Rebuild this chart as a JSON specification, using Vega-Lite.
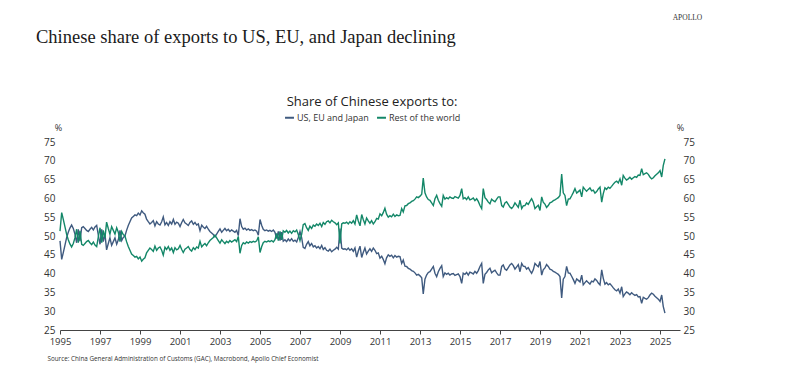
{
"$schema":"https://vega.github.io/schema/vega-lite/v6.json",
"width":620,"height":188,
"autosize":"none",
"padding":{"left":60,"top":142,"right":111,"bottom":55},
"background":"white",
"title":{"text":"Chinese share of exports to US, EU, and Japan declining","anchor":"start","frame":"group","font":"Liberation Serif","fontSize":18.5,"fontWeight":"normal","color":"#1a1a1a","dx":-24,"dy":37},
"config":{"view":{"stroke":null},"font":"Open Sans"},
"data":{"values":[
{"d":"1995-01","a":48.7,"b":51.3},{"d":"1995-02","a":43.8,"b":56.2},{"d":"1995-03","a":45.5,"b":54.5},{"d":"1995-04","a":47.5,"b":52.5},{"d":"1995-05","a":49.5,"b":50.5},{"d":"1995-06","a":51.0,"b":49.0},{"d":"1995-07","a":52.1,"b":47.9},{"d":"1995-08","a":52.9,"b":47.1},{"d":"1995-09","a":52.0,"b":48.0},{"d":"1995-10","a":50.5,"b":49.5},{"d":"1995-11","a":48.2,"b":51.8},{"d":"1995-12","a":51.8,"b":48.2},
{"d":"1996-01","a":48.6,"b":51.4},{"d":"1996-02","a":52.2,"b":47.8},{"d":"1996-03","a":52.5,"b":47.5},{"d":"1996-04","a":52.0,"b":48.0},{"d":"1996-05","a":51.5,"b":48.5},{"d":"1996-06","a":51.2,"b":48.8},{"d":"1996-07","a":51.8,"b":48.2},{"d":"1996-08","a":52.3,"b":47.7},{"d":"1996-09","a":51.6,"b":48.4},{"d":"1996-10","a":52.4,"b":47.6},{"d":"1996-11","a":52.8,"b":47.2},{"d":"1996-12","a":50.2,"b":49.8},
{"d":"1997-01","a":47.8,"b":52.2},{"d":"1997-02","a":51.8,"b":48.2},{"d":"1997-03","a":48.5,"b":51.5},{"d":"1997-04","a":50.5,"b":49.5},{"d":"1997-05","a":46.3,"b":53.7},{"d":"1997-06","a":48.0,"b":52.0},{"d":"1997-07","a":49.5,"b":50.5},{"d":"1997-08","a":47.5,"b":52.5},{"d":"1997-09","a":48.5,"b":51.5},{"d":"1997-10","a":49.5,"b":50.5},{"d":"1997-11","a":47.8,"b":52.2},{"d":"1997-12","a":49.0,"b":51.0},
{"d":"1998-01","a":51.5,"b":48.5},{"d":"1998-02","a":48.8,"b":51.2},{"d":"1998-03","a":49.6,"b":50.4},{"d":"1998-04","a":50.0,"b":50.0},{"d":"1998-05","a":51.5,"b":48.5},{"d":"1998-06","a":52.8,"b":47.2},{"d":"1998-07","a":53.8,"b":46.2},{"d":"1998-08","a":54.8,"b":45.2},{"d":"1998-09","a":55.2,"b":44.8},{"d":"1998-10","a":55.6,"b":44.4},{"d":"1998-11","a":55.4,"b":44.6},{"d":"1998-12","a":56.1,"b":43.9},
{"d":"1999-01","a":55.6,"b":44.4},{"d":"1999-02","a":56.7,"b":43.3},{"d":"1999-03","a":56.2,"b":43.8},{"d":"1999-04","a":55.8,"b":44.2},{"d":"1999-05","a":54.5,"b":45.5},{"d":"1999-06","a":53.8,"b":46.2},{"d":"1999-07","a":53.2,"b":46.8},{"d":"1999-08","a":53.6,"b":46.4},{"d":"1999-09","a":54.1,"b":45.9},{"d":"1999-10","a":52.7,"b":47.3},{"d":"1999-11","a":53.8,"b":46.2},{"d":"1999-12","a":53.2,"b":46.8},
{"d":"2000-01","a":52.9,"b":47.1},{"d":"2000-02","a":53.8,"b":46.2},{"d":"2000-03","a":55.1,"b":44.9},{"d":"2000-04","a":53.0,"b":47.0},{"d":"2000-05","a":53.6,"b":46.4},{"d":"2000-06","a":52.8,"b":47.2},{"d":"2000-07","a":53.8,"b":46.2},{"d":"2000-08","a":53.2,"b":46.8},{"d":"2000-09","a":54.4,"b":45.6},{"d":"2000-10","a":53.1,"b":46.9},{"d":"2000-11","a":53.7,"b":46.3},{"d":"2000-12","a":53.4,"b":46.6},
{"d":"2001-01","a":52.5,"b":47.5},{"d":"2001-02","a":53.6,"b":46.4},{"d":"2001-03","a":54.4,"b":45.6},{"d":"2001-04","a":53.5,"b":46.5},{"d":"2001-05","a":53.2,"b":46.8},{"d":"2001-06","a":52.8,"b":47.2},{"d":"2001-07","a":53.6,"b":46.4},{"d":"2001-08","a":54.0,"b":46.0},{"d":"2001-09","a":53.1,"b":46.9},{"d":"2001-10","a":53.6,"b":46.4},{"d":"2001-11","a":52.9,"b":47.1},{"d":"2001-12","a":53.2,"b":46.8},
{"d":"2002-01","a":51.4,"b":48.6},{"d":"2002-02","a":52.9,"b":47.1},{"d":"2002-03","a":52.4,"b":47.6},{"d":"2002-04","a":52.0,"b":48.0},{"d":"2002-05","a":52.6,"b":47.4},{"d":"2002-06","a":51.8,"b":48.2},{"d":"2002-07","a":51.2,"b":48.8},{"d":"2002-08","a":50.8,"b":49.2},{"d":"2002-09","a":50.4,"b":49.6},{"d":"2002-10","a":49.8,"b":50.2},{"d":"2002-11","a":50.5,"b":49.5},{"d":"2002-12","a":51.2,"b":48.8},
{"d":"2003-01","a":51.9,"b":48.1},{"d":"2003-02","a":51.0,"b":49.0},{"d":"2003-03","a":51.5,"b":48.5},{"d":"2003-04","a":52.0,"b":48.0},{"d":"2003-05","a":51.4,"b":48.6},{"d":"2003-06","a":51.8,"b":48.2},{"d":"2003-07","a":51.2,"b":48.8},{"d":"2003-08","a":51.6,"b":48.4},{"d":"2003-09","a":51.3,"b":48.7},{"d":"2003-10","a":51.0,"b":49.0},{"d":"2003-11","a":51.5,"b":48.5},{"d":"2003-12","a":50.1,"b":49.9},
{"d":"2004-01","a":54.6,"b":45.4},{"d":"2004-02","a":52.5,"b":47.5},{"d":"2004-03","a":51.8,"b":48.2},{"d":"2004-04","a":52.1,"b":47.9},{"d":"2004-05","a":51.6,"b":48.4},{"d":"2004-06","a":51.9,"b":48.1},{"d":"2004-07","a":51.5,"b":48.5},{"d":"2004-08","a":51.7,"b":48.3},{"d":"2004-09","a":51.4,"b":48.6},{"d":"2004-10","a":51.6,"b":48.4},{"d":"2004-11","a":51.3,"b":48.7},{"d":"2004-12","a":50.2,"b":49.8},
{"d":"2005-01","a":54.4,"b":45.6},{"d":"2005-02","a":52.8,"b":47.2},{"d":"2005-03","a":51.8,"b":48.2},{"d":"2005-04","a":51.4,"b":48.6},{"d":"2005-05","a":51.6,"b":48.4},{"d":"2005-06","a":51.3,"b":48.7},{"d":"2005-07","a":51.5,"b":48.5},{"d":"2005-08","a":51.2,"b":48.8},{"d":"2005-09","a":51.6,"b":48.4},{"d":"2005-10","a":51.0,"b":49.0},{"d":"2005-11","a":49.3,"b":50.7},{"d":"2005-12","a":51.2,"b":48.8},
{"d":"2006-01","a":48.8,"b":51.2},{"d":"2006-02","a":51.0,"b":49.0},{"d":"2006-03","a":48.6,"b":51.4},{"d":"2006-04","a":49.0,"b":51.0},{"d":"2006-05","a":48.5,"b":51.5},{"d":"2006-06","a":49.2,"b":50.8},{"d":"2006-07","a":48.7,"b":51.3},{"d":"2006-08","a":49.3,"b":50.7},{"d":"2006-09","a":48.6,"b":51.4},{"d":"2006-10","a":48.9,"b":51.1},{"d":"2006-11","a":48.4,"b":51.6},{"d":"2006-12","a":49.6,"b":50.4},
{"d":"2007-01","a":51.2,"b":48.8},{"d":"2007-02","a":49.5,"b":50.5},{"d":"2007-03","a":47.0,"b":53.0},{"d":"2007-04","a":46.7,"b":53.3},{"d":"2007-05","a":47.8,"b":52.2},{"d":"2007-06","a":48.5,"b":51.5},{"d":"2007-07","a":47.4,"b":52.6},{"d":"2007-08","a":48.0,"b":52.0},{"d":"2007-09","a":47.1,"b":52.9},{"d":"2007-10","a":47.4,"b":52.6},{"d":"2007-11","a":46.8,"b":53.2},{"d":"2007-12","a":47.2,"b":52.8},
{"d":"2008-01","a":46.6,"b":53.4},{"d":"2008-02","a":47.5,"b":52.5},{"d":"2008-03","a":46.4,"b":53.6},{"d":"2008-04","a":46.9,"b":53.1},{"d":"2008-05","a":46.2,"b":53.8},{"d":"2008-06","a":46.0,"b":54.0},{"d":"2008-07","a":46.5,"b":53.5},{"d":"2008-08","a":45.8,"b":54.2},{"d":"2008-09","a":46.2,"b":53.8},{"d":"2008-10","a":46.5,"b":53.5},{"d":"2008-11","a":47.0,"b":53.0},{"d":"2008-12","a":46.5,"b":53.5},
{"d":"2009-01","a":52.0,"b":48.0},{"d":"2009-02","a":46.8,"b":53.2},{"d":"2009-03","a":46.5,"b":53.5},{"d":"2009-04","a":46.6,"b":53.4},{"d":"2009-05","a":46.3,"b":53.7},{"d":"2009-06","a":46.8,"b":53.2},{"d":"2009-07","a":46.2,"b":53.8},{"d":"2009-08","a":46.6,"b":53.4},{"d":"2009-09","a":45.9,"b":54.1},{"d":"2009-10","a":46.8,"b":53.2},{"d":"2009-11","a":44.4,"b":55.6},{"d":"2009-12","a":46.0,"b":54.0},
{"d":"2010-01","a":47.3,"b":52.7},{"d":"2010-02","a":44.3,"b":55.7},{"d":"2010-03","a":45.6,"b":54.4},{"d":"2010-04","a":46.8,"b":53.2},{"d":"2010-05","a":45.2,"b":54.8},{"d":"2010-06","a":46.0,"b":54.0},{"d":"2010-07","a":46.6,"b":53.4},{"d":"2010-08","a":45.9,"b":54.1},{"d":"2010-09","a":46.8,"b":53.2},{"d":"2010-10","a":46.2,"b":53.8},{"d":"2010-11","a":45.3,"b":54.7},{"d":"2010-12","a":45.5,"b":54.5},
{"d":"2011-01","a":44.1,"b":55.9},{"d":"2011-02","a":44.6,"b":55.4},{"d":"2011-03","a":43.8,"b":56.2},{"d":"2011-04","a":42.6,"b":57.4},{"d":"2011-05","a":44.2,"b":55.8},{"d":"2011-06","a":45.0,"b":55.0},{"d":"2011-07","a":44.6,"b":55.4},{"d":"2011-08","a":44.9,"b":55.1},{"d":"2011-09","a":44.2,"b":55.8},{"d":"2011-10","a":44.8,"b":55.2},{"d":"2011-11","a":44.4,"b":55.6},{"d":"2011-12","a":44.6,"b":55.4},
{"d":"2012-01","a":44.5,"b":55.5},{"d":"2012-02","a":42.7,"b":57.3},{"d":"2012-03","a":43.6,"b":56.4},{"d":"2012-04","a":42.0,"b":58.0},{"d":"2012-05","a":41.9,"b":58.1},{"d":"2012-06","a":41.4,"b":58.6},{"d":"2012-07","a":41.2,"b":58.8},{"d":"2012-08","a":40.8,"b":59.2},{"d":"2012-09","a":40.6,"b":59.4},{"d":"2012-10","a":40.2,"b":59.8},{"d":"2012-11","a":39.6,"b":60.4},{"d":"2012-12","a":39.8,"b":60.2},
{"d":"2013-01","a":39.4,"b":60.6},{"d":"2013-02","a":38.9,"b":61.1},{"d":"2013-03","a":34.6,"b":65.4},{"d":"2013-04","a":38.5,"b":61.5},{"d":"2013-05","a":39.6,"b":60.4},{"d":"2013-06","a":40.3,"b":59.7},{"d":"2013-07","a":40.5,"b":59.5},{"d":"2013-08","a":41.2,"b":58.8},{"d":"2013-09","a":41.9,"b":58.1},{"d":"2013-10","a":40.1,"b":59.9},{"d":"2013-11","a":39.2,"b":60.8},{"d":"2013-12","a":40.5,"b":59.5},
{"d":"2014-01","a":41.4,"b":58.6},{"d":"2014-02","a":42.1,"b":57.9},{"d":"2014-03","a":39.2,"b":60.8},{"d":"2014-04","a":40.2,"b":59.8},{"d":"2014-05","a":39.8,"b":60.2},{"d":"2014-06","a":40.1,"b":59.9},{"d":"2014-07","a":39.6,"b":60.4},{"d":"2014-08","a":39.9,"b":60.1},{"d":"2014-09","a":40.0,"b":60.0},{"d":"2014-10","a":39.5,"b":60.5},{"d":"2014-11","a":39.7,"b":60.3},{"d":"2014-12","a":39.9,"b":60.1},
{"d":"2015-01","a":39.2,"b":60.8},{"d":"2015-02","a":37.4,"b":62.6},{"d":"2015-03","a":40.1,"b":59.9},{"d":"2015-04","a":39.8,"b":60.2},{"d":"2015-05","a":40.3,"b":59.7},{"d":"2015-06","a":39.6,"b":60.4},{"d":"2015-07","a":40.4,"b":59.6},{"d":"2015-08","a":40.2,"b":59.8},{"d":"2015-09","a":39.9,"b":60.1},{"d":"2015-10","a":40.6,"b":59.4},{"d":"2015-11","a":40.1,"b":59.9},{"d":"2015-12","a":40.8,"b":59.2},
{"d":"2016-01","a":41.9,"b":58.1},{"d":"2016-02","a":42.7,"b":57.3},{"d":"2016-03","a":37.4,"b":62.6},{"d":"2016-04","a":39.8,"b":60.2},{"d":"2016-05","a":40.3,"b":59.7},{"d":"2016-06","a":41.0,"b":59.0},{"d":"2016-07","a":41.4,"b":58.6},{"d":"2016-08","a":40.2,"b":59.8},{"d":"2016-09","a":40.6,"b":59.4},{"d":"2016-10","a":40.9,"b":59.1},{"d":"2016-11","a":40.2,"b":59.8},{"d":"2016-12","a":39.6,"b":60.4},
{"d":"2017-01","a":39.6,"b":60.4},{"d":"2017-02","a":41.9,"b":58.1},{"d":"2017-03","a":42.3,"b":57.7},{"d":"2017-04","a":41.2,"b":58.8},{"d":"2017-05","a":40.9,"b":59.1},{"d":"2017-06","a":41.6,"b":58.4},{"d":"2017-07","a":42.3,"b":57.7},{"d":"2017-08","a":42.7,"b":57.3},{"d":"2017-09","a":42.1,"b":57.9},{"d":"2017-10","a":41.2,"b":58.8},{"d":"2017-11","a":41.8,"b":58.2},{"d":"2017-12","a":42.4,"b":57.6},
{"d":"2018-01","a":40.5,"b":59.5},{"d":"2018-02","a":42.7,"b":57.3},{"d":"2018-03","a":42.0,"b":58.0},{"d":"2018-04","a":41.9,"b":58.1},{"d":"2018-05","a":41.2,"b":58.8},{"d":"2018-06","a":41.6,"b":58.4},{"d":"2018-07","a":40.8,"b":59.2},{"d":"2018-08","a":40.1,"b":59.9},{"d":"2018-09","a":41.0,"b":59.0},{"d":"2018-10","a":42.7,"b":57.3},{"d":"2018-11","a":42.2,"b":57.8},{"d":"2018-12","a":41.8,"b":58.2},
{"d":"2019-01","a":43.2,"b":56.8},{"d":"2019-02","a":39.6,"b":60.4},{"d":"2019-03","a":41.0,"b":59.0},{"d":"2019-04","a":41.5,"b":58.5},{"d":"2019-05","a":42.4,"b":57.6},{"d":"2019-06","a":41.9,"b":58.1},{"d":"2019-07","a":41.2,"b":58.8},{"d":"2019-08","a":41.0,"b":59.0},{"d":"2019-09","a":40.6,"b":59.4},{"d":"2019-10","a":40.4,"b":59.6},{"d":"2019-11","a":40.1,"b":59.9},{"d":"2019-12","a":39.8,"b":60.2},
{"d":"2020-01","a":39.2,"b":60.8},{"d":"2020-02","a":33.5,"b":66.5},{"d":"2020-03","a":38.5,"b":61.5},{"d":"2020-04","a":39.2,"b":60.8},{"d":"2020-05","a":41.9,"b":58.1},{"d":"2020-06","a":40.2,"b":59.8},{"d":"2020-07","a":40.1,"b":59.9},{"d":"2020-08","a":39.3,"b":60.7},{"d":"2020-09","a":38.4,"b":61.6},{"d":"2020-10","a":37.4,"b":62.6},{"d":"2020-11","a":38.6,"b":61.4},{"d":"2020-12","a":38.2,"b":61.8},
{"d":"2021-01","a":37.8,"b":62.2},{"d":"2021-02","a":39.6,"b":60.4},{"d":"2021-03","a":37.0,"b":63.0},{"d":"2021-04","a":37.6,"b":62.4},{"d":"2021-05","a":38.1,"b":61.9},{"d":"2021-06","a":37.6,"b":62.4},{"d":"2021-07","a":37.2,"b":62.8},{"d":"2021-08","a":38.0,"b":62.0},{"d":"2021-09","a":37.8,"b":62.2},{"d":"2021-10","a":38.6,"b":61.4},{"d":"2021-11","a":38.2,"b":61.8},{"d":"2021-12","a":37.5,"b":62.5},
{"d":"2022-01","a":37.0,"b":63.0},{"d":"2022-02","a":41.0,"b":59.0},{"d":"2022-03","a":38.8,"b":61.2},{"d":"2022-04","a":37.2,"b":62.8},{"d":"2022-05","a":37.6,"b":62.4},{"d":"2022-06","a":37.0,"b":63.0},{"d":"2022-07","a":37.3,"b":62.7},{"d":"2022-08","a":36.8,"b":63.2},{"d":"2022-09","a":36.2,"b":63.8},{"d":"2022-10","a":35.7,"b":64.3},{"d":"2022-11","a":35.4,"b":64.6},{"d":"2022-12","a":35.9,"b":64.1},
{"d":"2023-01","a":34.8,"b":65.2},{"d":"2023-02","a":36.5,"b":63.5},{"d":"2023-03","a":33.9,"b":66.1},{"d":"2023-04","a":34.6,"b":65.4},{"d":"2023-05","a":35.1,"b":64.9},{"d":"2023-06","a":34.8,"b":65.2},{"d":"2023-07","a":34.4,"b":65.6},{"d":"2023-08","a":34.9,"b":65.1},{"d":"2023-09","a":34.5,"b":65.5},{"d":"2023-10","a":34.2,"b":65.8},{"d":"2023-11","a":34.4,"b":65.6},{"d":"2023-12","a":33.8,"b":66.2},
{"d":"2024-01","a":33.9,"b":66.1},{"d":"2024-02","a":32.1,"b":67.9},{"d":"2024-03","a":33.7,"b":66.3},{"d":"2024-04","a":33.4,"b":66.6},{"d":"2024-05","a":33.2,"b":66.8},{"d":"2024-06","a":33.6,"b":66.4},{"d":"2024-07","a":34.3,"b":65.7},{"d":"2024-08","a":34.8,"b":65.2},{"d":"2024-09","a":34.5,"b":65.5},{"d":"2024-10","a":34.0,"b":66.0},{"d":"2024-11","a":33.6,"b":66.4},{"d":"2024-12","a":33.2,"b":66.8},
{"d":"2025-01","a":32.6,"b":67.4},{"d":"2025-02","a":34.3,"b":65.7},{"d":"2025-03","a":31.3,"b":68.7},{"d":"2025-04","a":29.5,"b":70.5}
]},
"transform":[{"fold":["a","b"],"as":["series","value"]}],
"layer":[
{"mark":{"type":"line","strokeWidth":1.4,"clip":false},
"encoding":{
"x":{"field":"d","type":"temporal","scale":{"type":"utc","domain":[{"year":1995,"month":1,"date":1,"utc":true},{"year":2026,"month":1,"date":1,"utc":true}]},
"axis":{"orient":"bottom","values":[{"year":1995,"utc":true},{"year":1997,"utc":true},{"year":1999,"utc":true},{"year":2001,"utc":true},{"year":2003,"utc":true},{"year":2005,"utc":true},{"year":2007,"utc":true},{"year":2009,"utc":true},{"year":2011,"utc":true},{"year":2013,"utc":true},{"year":2015,"utc":true},{"year":2017,"utc":true},{"year":2019,"utc":true},{"year":2021,"utc":true},{"year":2023,"utc":true},{"year":2025,"utc":true}],"format":"%Y","grid":false,"domainColor":"#444","tickColor":"#444","tickSize":4,"labelFontSize":9.5,"labelColor":"#333","labelPadding":2,"labelFlush":false,
"title":"Source: China General Administration of Customs (GAC), Macrobond, Apollo Chief Economist","titleX":-13,"titleY":28,"titleAlign":"left","titleBaseline":"middle","titleFontSize":6.3,"titleFontWeight":"normal","titleColor":"#333"}},
"y":{"field":"value","type":"quantitative","scale":{"domain":[25,75],"nice":false,"zero":false},
"axis":{"orient":"left","values":[25,30,35,40,45,50,55,60,65,70,75],"grid":false,"domain":false,"ticks":false,"labelFontSize":10,"labelColor":"#333","labelPadding":5,
"title":"%","titleAngle":0,"titleX":-2,"titleY":-15,"titleFontSize":9,"titleFontWeight":"normal","titleColor":"#333","titleBaseline":"middle"}},
"color":{"field":"series","type":"nominal","scale":{"domain":["a","b"],"range":["#3f5a7f","#138768"]},
"legend":{"orient":"none","legendX":224,"legendY":-46,"direction":"horizontal","title":"Share of Chinese exports to:","titleAnchor":"middle","titleFontSize":13,"titleFontWeight":"normal","titleColor":"#222","titlePadding":3,"labelFontSize":9,"labelColor":"#333","symbolType":"stroke","symbolStrokeWidth":2,"symbolSize":80,"columnPadding":4,"labelOffset":2,
"labelExpr":"datum.label == 'a' ? 'US, EU and Japan' : 'Rest of the world'"}}
}},
{"mark":{"type":"line","opacity":0},
"encoding":{
"x":{"field":"d","type":"temporal","axis":{"orient":"top","labels":false,"ticks":false,"domain":false,"grid":false,"title":"APOLLO","titleX":627,"titleY":-125,"titleFont":"Liberation Serif","titleFontSize":7.5,"titleFontWeight":"normal","titleColor":"#333","titleBaseline":"middle"}},
"y":{"field":"value","type":"quantitative","axis":{"orient":"right","values":[25,30,35,40,45,50,55,60,65,70,75],"grid":false,"domain":false,"ticks":false,"labelFontSize":10,"labelColor":"#333","labelPadding":3,
"title":"%","titleAngle":0,"titleX":0,"titleY":-15,"titleFontSize":9,"titleFontWeight":"normal","titleColor":"#333","titleBaseline":"middle"}},
"detail":{"field":"series","type":"nominal"}
}}
],
"resolve":{"axis":{"x":"independent","y":"independent"}}
}
